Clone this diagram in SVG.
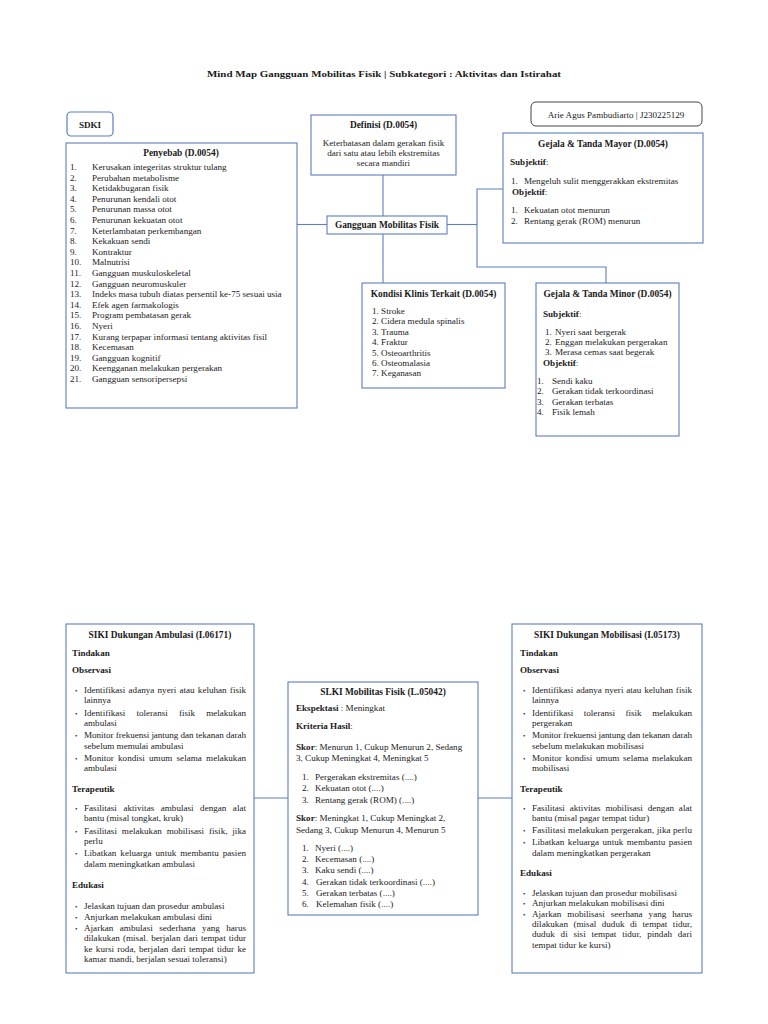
<svg xmlns="http://www.w3.org/2000/svg" width="768" height="1024" viewBox="0 0 768 1024">
<style>
.t{font-family:"Liberation Serif","Times New Roman",serif;font-size:9.1px;fill:#1a1a1a}
.h{font-weight:bold;font-size:9.4px;text-anchor:middle}
.s{font-weight:bold}
.c{text-anchor:middle}
.bl{font-size:7px}
.box{fill:#fff;stroke:#5b7fc0;stroke-width:1.1}
.ln{fill:none;stroke:#5b7fc0;stroke-width:1.1}
</style>
<rect width="768" height="1024" fill="#fff"/>
<text class="t s c" x="384" y="77" font-size="10.5" textLength="354" lengthAdjust="spacingAndGlyphs">Mind Map  Gangguan Mobilitas Fisik | Subkategori : Aktivitas dan Istirahat</text>

<g id="connectors">
<path class="ln" d="M383 175V216"/>
<path class="ln" d="M297 224.5H327"/>
<path class="ln" d="M447 224.5H477"/>
<path class="ln" d="M503 189H477V267H606V283"/>
<path class="ln" d="M383 234V283"/>
<path class="ln" d="M254 798H288"/>
<path class="ln" d="M478 798H512"/>
</g>

<g id="sdki">
<rect x="67" y="112" width="46" height="24" rx="4" fill="#fff" stroke="#5b7fc0" stroke-width="1.2"/>
<text class="t s c" x="90" y="128" font-size="11.5">SDKI</text>
</g>

<g id="author">
<rect x="531" y="102" width="171" height="24" rx="5" fill="#fff" stroke="#444" stroke-width="1"/>
<text class="t c" x="616" y="117.5">Arie Agus Pambudiarto | J230225129</text>
</g>

<g id="penyebab">
<rect class="box" x="66" y="143" width="231" height="265"/>
<text class="t h" x="181" y="155.5">Penyebab (D.0054)</text>
<g class="t">
<text x="70" y="170">1.</text><text x="92" y="170">Kerusakan integeritas struktur tulang</text>
<text x="70" y="180.6">2.</text><text x="92" y="180.6">Perubahan metabolisme</text>
<text x="70" y="191.2">3.</text><text x="92" y="191.2">Ketidakbugaran fisik</text>
<text x="70" y="201.8">4.</text><text x="92" y="201.8">Penurunan kendali otot</text>
<text x="70" y="212.4">5.</text><text x="92" y="212.4">Penurunan massa otot</text>
<text x="70" y="223">6.</text><text x="92" y="223">Penurunan kekuatan otot</text>
<text x="70" y="233.6">7.</text><text x="92" y="233.6">Keterlambatan perkembangan</text>
<text x="70" y="244.2">8.</text><text x="92" y="244.2">Kekakuan sendi</text>
<text x="70" y="254.8">9.</text><text x="92" y="254.8">Kontraktur</text>
<text x="70" y="265.4">10.</text><text x="92" y="265.4">Malnutrisi</text>
<text x="70" y="276">11.</text><text x="92" y="276">Gangguan muskuloskeletal</text>
<text x="70" y="286.6">12.</text><text x="92" y="286.6">Gangguan neuromuskuler</text>
<text x="70" y="297.2">13.</text><text x="92" y="297.2">Indeks masa tubuh diatas persentil ke-75 sesuai usia</text>
<text x="70" y="307.8">14.</text><text x="92" y="307.8">Efek agen farmakologis</text>
<text x="70" y="318.4">15.</text><text x="92" y="318.4">Program pembatasan gerak</text>
<text x="70" y="329">16.</text><text x="92" y="329">Nyeri</text>
<text x="70" y="339.6">17.</text><text x="92" y="339.6">Kurang terpapar informasi tentang aktivitas fisil</text>
<text x="70" y="350.2">18.</text><text x="92" y="350.2">Kecemasan</text>
<text x="70" y="360.8">19.</text><text x="92" y="360.8">Gangguan kognitif</text>
<text x="70" y="371.4">20.</text><text x="92" y="371.4">Keengganan melakukan pergerakan</text>
<text x="70" y="382">21.</text><text x="92" y="382">Gangguan sensoripersepsi</text>
</g>
</g>

<g id="definisi">
<rect class="box" x="311" y="115" width="145" height="60"/>
<text class="t h" x="383.5" y="128">Definisi (D.0054)</text>
<text class="t c" x="383.5" y="146">Keterbatasan dalam gerakan fisik</text>
<text class="t c" x="383.5" y="156">dari satu atau lebih ekstremitas</text>
<text class="t c" x="383.5" y="166">secara mandiri</text>
</g>

<g id="gangguan">
<rect class="box" x="327" y="216" width="120" height="18"/>
<text class="t h" x="387" y="228">Gangguan Mobilitas Fisik</text>
</g>

<g id="gejala-mayor">
<rect class="box" x="503" y="133" width="200" height="110"/>
<text class="t h" x="603" y="146.5">Gejala &amp; Tanda Mayor (D.0054)</text>
<text class="t" x="510" y="165"><tspan class="s">Subjektif</tspan>:</text>
<text class="t" x="511" y="184">1.</text><text class="t" x="524" y="184">Mengeluh sulit menggerakkan ekstremitas</text>
<text class="t" x="512" y="194.5"><tspan class="s">Objektif</tspan>:</text>
<text class="t" x="511" y="213">1.</text><text class="t" x="524" y="213">Kekuatan otot menurun</text>
<text class="t" x="511" y="224">2.</text><text class="t" x="524" y="224">Rentang gerak (ROM) menurun</text>
</g>

<g id="kondisi-klinis">
<rect class="box" x="362" y="283" width="143" height="105"/>
<text class="t h" x="433.5" y="297">Kondisi Klinis Terkait (D.0054)</text>
<g class="t">
<text x="372" y="314">1. Stroke</text>
<text x="372" y="324.4">2. Cidera medula spinalis</text>
<text x="372" y="334.8">3. Trauma</text>
<text x="372" y="345.2">4. Fraktur</text>
<text x="372" y="355.6">5. Osteoarthritis</text>
<text x="372" y="366">6. Osteomalasia</text>
<text x="372" y="376.4">7. Keganasan</text>
</g>
</g>

<g id="gejala-minor">
<rect class="box" x="536" y="283" width="143" height="153"/>
<text class="t h" x="607.5" y="297">Gejala &amp; Tanda Minor (D.0054)</text>
<text class="t" x="543" y="316.5"><tspan class="s">Subjektif</tspan>:</text>
<g class="t">
<text x="545" y="334.5">1.</text><text x="555" y="334.5">Nyeri saat bergerak</text>
<text x="545" y="344.8">2.</text><text x="555" y="344.8">Enggan melakukan pergerakan</text>
<text x="545" y="355">3.</text><text x="555" y="355">Merasa cemas saat begerak</text>
</g>
<text class="t" x="543" y="365.5"><tspan class="s">Objektif</tspan>:</text>
<g class="t">
<text x="537" y="384">1.</text><text x="552" y="384">Sendi kaku</text>
<text x="537" y="394.3">2.</text><text x="552" y="394.3">Gerakan tidak terkoordinasi</text>
<text x="537" y="404.6">3.</text><text x="552" y="404.6">Gerakan terbatas</text>
<text x="537" y="414.9">4.</text><text x="552" y="414.9">Fisik lemah</text>
</g>
</g>

<g id="siki-ambulasi">
<rect class="box" x="66" y="624" width="188" height="349"/>
<text class="t h" x="160" y="638">SIKI Dukungan Ambulasi (I.06171)</text>
<text class="t s" x="72" y="656">Tindakan</text>
<text class="t s" x="72" y="673">Observasi</text>
<g class="t">
<text class="bl" x="75" y="693">•</text><text x="84" y="693" word-spacing="1" textLength="162">Identifikasi adanya nyeri atau keluhan fisik</text>
<text x="84" y="703.3">lainnya</text>
<text class="bl" x="75" y="715.6">•</text><text x="84" y="715.6" word-spacing="8.9" textLength="162">Identifikasi toleransi fisik melakukan</text>
<text x="84" y="725.9">ambulasi</text>
<text class="bl" x="75" y="738.2">•</text><text x="84" y="738.2" textLength="162">Monitor frekuensi jantung dan tekanan darah</text>
<text x="84" y="748.5">sebelum memulai ambulasi</text>
<text class="bl" x="75" y="760.8">•</text><text x="84" y="760.8" word-spacing="2" textLength="162">Monitor kondisi umum selama melakukan</text>
<text x="84" y="771.1">ambulasi</text>
</g>
<text class="t s" x="72" y="792">Terapeutik</text>
<g class="t">
<text class="bl" x="75" y="811">•</text><text x="84" y="811" word-spacing="4.2" textLength="162">Fasilitasi aktivitas ambulasi dengan alat</text>
<text x="84" y="821.3">bantu (misal tongkat, kruk)</text>
<text class="bl" x="75" y="833.6">•</text><text x="84" y="833.6" word-spacing="2.6" textLength="162">Fasilitasi melakukan mobilisasi fisik, jika</text>
<text x="84" y="843.9">perlu</text>
<text class="bl" x="75" y="856.2">•</text><text x="84" y="856.2" word-spacing="1.7" textLength="162">Libatkan keluarga untuk membantu pasien</text>
<text x="84" y="866.5">dalam meningkatkan ambulasi</text>
</g>
<text class="t s" x="72" y="888">Edukasi</text>
<g class="t">
<text class="bl" x="75" y="909">•</text><text x="84" y="909">Jelaskan tujuan dan prosedur ambulasi</text>
<text class="bl" x="75" y="920">•</text><text x="84" y="920">Anjurkan melakukan ambulasi dini</text>
<text class="bl" x="75" y="931">•</text><text x="84" y="931" word-spacing="4.2" textLength="162">Ajarkan ambulasi sederhana yang harus</text>
<text x="84" y="941.3" word-spacing="0.9" textLength="162">dilakukan (misal. berjalan dari tempat tidur</text>
<text x="84" y="951.6" word-spacing="1" textLength="162">ke kursi roda, berjalan dari tempat tidur ke</text>
<text x="84" y="961.9">kamar mandi, berjalan sesuai toleransi)</text>
</g>
</g>

<g id="slki">
<rect class="box" x="288" y="682" width="190" height="233"/>
<text class="t h" x="383" y="695">SLKI Mobilitas Fisik (L.05042)</text>
<text class="t" x="296" y="711"><tspan class="s">Ekspektasi</tspan> : Meningkat</text>
<text class="t" x="296" y="728.5"><tspan class="s">Kriteria Hasil</tspan>:</text>
<text class="t" x="296" y="750"><tspan class="s">Skor</tspan>: Menurun 1, Cukup Menurun 2, Sedang</text>
<text class="t" x="296" y="761">3, Cukup Meningkat 4, Meningkat 5</text>
<g class="t">
<text x="302" y="780">1.</text><text x="315" y="780">Pergerakan ekstremitas (....)</text>
<text x="302" y="791">2.</text><text x="315" y="791">Kekuatan otot (....)</text>
<text x="302" y="802.5">3.</text><text x="315" y="802.5">Rentang gerak (ROM) (....)</text>
</g>
<text class="t" x="296" y="821"><tspan class="s">Skor</tspan>: Meningkat 1, Cukup Meningkat 2,</text>
<text class="t" x="296" y="832.5">Sedang 3, Cukup Menurun 4, Menurun 5</text>
<g class="t">
<text x="302" y="851">1.</text><text x="315" y="851">Nyeri (....)</text>
<text x="302" y="862">2.</text><text x="315" y="862">Kecemasan (....)</text>
<text x="302" y="873">3.</text><text x="315" y="873">Kaku sendi (....)</text>
<text x="302" y="884.5">4.</text><text x="316" y="884.5">Gerakan tidak terkoordinasi (....)</text>
<text x="302" y="895.5">5.</text><text x="316" y="895.5">Gerakan terbatas (....)</text>
<text x="302" y="907">6.</text><text x="316" y="907">Kelemahan fisik (....)</text>
</g>
</g>

<g id="siki-mobilisasi">
<rect class="box" x="512" y="624" width="190" height="349"/>
<text class="t h" x="607" y="638">SIKI Dukungan Mobilisasi (I.05173)</text>
<text class="t s" x="520" y="656">Tindakan</text>
<text class="t s" x="520" y="673">Observasi</text>
<g class="t">
<text class="bl" x="523" y="693">•</text><text x="532" y="693" word-spacing="0.6" textLength="160">Identifikasi adanya nyeri atau keluhan fisik</text>
<text x="532" y="703.3">lainnya</text>
<text class="bl" x="523" y="715.6">•</text><text x="532" y="715.6" word-spacing="8.3" textLength="160">Identifikasi toleransi fisik melakukan</text>
<text x="532" y="725.9">pergerakan</text>
<text class="bl" x="523" y="738.2">•</text><text x="532" y="738.2" textLength="160">Monitor frekuensi jantung dan tekanan darah</text>
<text x="532" y="748.5">sebelum melakukan mobilisasi</text>
<text class="bl" x="523" y="760.8">•</text><text x="532" y="760.8" word-spacing="1.5" textLength="160">Monitor kondisi umum selama melakukan</text>
<text x="532" y="771.1">mobilisasi</text>
</g>
<text class="t s" x="520" y="792">Terapeutik</text>
<g class="t">
<text class="bl" x="523" y="810.5">•</text><text x="532" y="810.5" word-spacing="2.6" textLength="160">Fasilitasi aktivitas mobilisasi dengan alat</text>
<text x="532" y="820.8">bantu (misal pagar tempat tidur)</text>
<text class="bl" x="523" y="833.1">•</text><text x="532" y="833.1" textLength="160">Fasilitasi melakukan pergerakan, jika perlu</text>
<text class="bl" x="523" y="845.4">•</text><text x="532" y="845.4" word-spacing="1.2" textLength="160">Libatkan keluarga untuk membantu pasien</text>
<text x="532" y="855.7">dalam meningkatkan pergerakan</text>
</g>
<text class="t s" x="520" y="875.5">Edukasi</text>
<g class="t">
<text class="bl" x="523" y="895.5">•</text><text x="532" y="895.5">Jelaskan tujuan dan prosedur mobilisasi</text>
<text class="bl" x="523" y="906">•</text><text x="532" y="906">Anjurkan melakukan mobilisasi dini</text>
<text class="bl" x="523" y="917">•</text><text x="532" y="917" word-spacing="3.75" textLength="160">Ajarkan mobilisasi seerhana yang harus</text>
<text x="532" y="927" word-spacing="3.2" textLength="160">dilakukan (misal duduk di tempat tidur,</text>
<text x="532" y="937.3" word-spacing="3.5" textLength="160">duduk di sisi tempat tidur, pindah dari</text>
<text x="532" y="947.6">tempat tidur ke kursi)</text>
</g>
</g>
</svg>
